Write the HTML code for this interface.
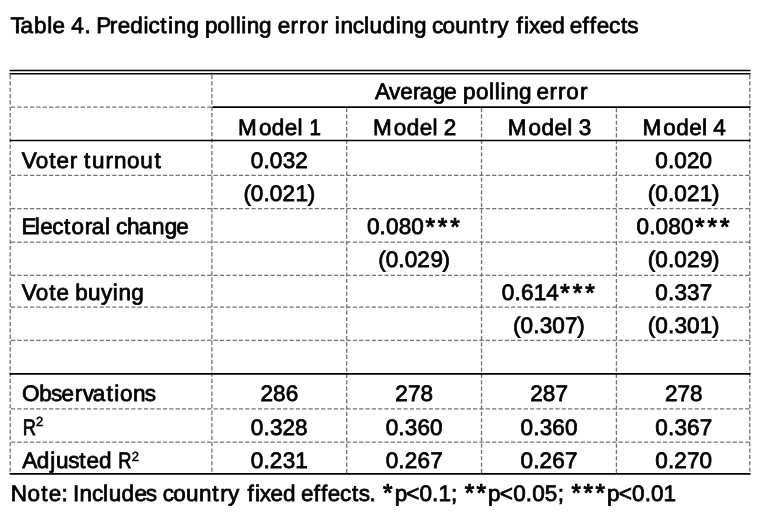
<!DOCTYPE html>
<html lang="en">
<head>
<meta charset="utf-8">
<title>Table 4. Predicting polling error including country fixed effects</title>
<style>
html,body{margin:0;padding:0;background:#fff}
svg{display:block}
text{font-family:"Liberation Sans",sans-serif;font-size:22.5px;fill:#000;stroke:#000;stroke-width:0.75;white-space:pre;text-rendering:geometricPrecision}
.sup{font-size:13.2px;stroke-width:0.45}
.ast{font-size:24.4px;stroke-width:1}
</style>
</head>
<body>
<svg width="768" height="516" viewBox="0 0 768 516">
<rect width="768" height="516" fill="#fff"/>
<g stroke="#727272" stroke-width="1.3" stroke-dasharray="4.2 2.13" fill="none">
<line x1="11" x2="212" y1="107.1" y2="107.1"/>
<line x1="11" x2="749.5" y1="175.44" y2="175.44"/>
<line x1="11" x2="749.5" y1="208.68" y2="208.68"/>
<line x1="11" x2="749.5" y1="242.06" y2="242.06"/>
<line x1="11" x2="749.5" y1="275.43" y2="275.43"/>
<line x1="11" x2="749.5" y1="307.2" y2="307.2"/>
<line x1="11" x2="749.5" y1="340.47" y2="340.47"/>
<line x1="11" x2="749.5" y1="408.78" y2="408.78"/>
<line x1="11" x2="749.5" y1="442.2" y2="442.2"/>
<line x1="10.22" x2="10.22" y1="75" y2="473.5"/>
<line x1="211.88" x2="211.88" y1="75" y2="473.5"/>
<line x1="346.68" x2="346.68" y1="108" y2="473.5"/>
<line x1="481.53" x2="481.53" y1="108" y2="473.5"/>
<line x1="616.43" x2="616.43" y1="108" y2="473.5"/>
<line x1="749.75" x2="749.75" y1="75" y2="473.5"/>
</g>
<g stroke="#000" fill="none">
<line x1="9.6" x2="750.6" y1="70.52" y2="70.52" stroke-width="1.55"/>
<line x1="9.6" x2="750.6" y1="73.76" y2="73.76" stroke-width="1.65"/>
<line x1="212.4" x2="750.6" y1="107.2" y2="107.2" stroke-width="1.7"/>
<line x1="9.6" x2="750.6" y1="140.45" y2="140.45" stroke-width="1.5"/>
<line x1="9.6" x2="750.6" y1="373.95" y2="373.95" stroke-width="1.8"/>
<line x1="9.6" x2="750.6" y1="473.9" y2="473.9" stroke-width="1.8"/>
</g>

<text><tspan x="10.38 20.55 34.11 47.18 52.51" y="33">Table</tspan> <tspan x="71.19 84.41" y="33">4.</tspan> <tspan x="96.17 109.77 117.65 130.17 143.47 148.46 160.28 168.01 173.72 186.40" y="33">Predicting</tspan> <tspan x="204.90 217.36 230.27 235.81 241.35 246.80 259.08" y="33">polling</tspan> <tspan x="277.87 290.61 299.00 307.11 320.51" y="33">error</tspan> <tspan x="334.69 340.49 352.79 363.99 369.51 382.44 395.71 401.38 414.01" y="33">including</tspan> <tspan x="431.97 442.53 455.34 468.24 481.61 489.50 497.25" y="33">country</tspan> <tspan x="516.43 524.05 528.92 539.68 552.30" y="33">fixed</tspan> <tspan x="569.78 582.57 589.86 596.72 608.98 620.98 627.33" y="33">effects</tspan></text>
<text><tspan x="375.03 389.02 400.15 412.95 419.80 432.72 444.21" y="99">Average</tspan> <tspan x="462.93 475.89 489.10 494.85 500.58 506.34 519.11" y="99">polling</tspan> <tspan x="536.62 549.55 558.07 566.31 579.89" y="99">error</tspan></text>
<text><tspan x="238.07 258.88 271.87 284.86 297.58" y="135">Model</tspan> <tspan x="309.57" y="135" textLength="11.42" lengthAdjust="spacingAndGlyphs">1</tspan></text>
<text><tspan x="372.89 393.70 406.69 419.68 432.40" y="135">Model</tspan> <tspan x="443.63" y="135">2</tspan></text>
<text><tspan x="507.77 528.58 541.57 554.56 567.28" y="135">Model</tspan> <tspan x="578.65" y="135">3</tspan></text>
<text><tspan x="642.49 663.30 676.29 689.28 702.00" y="135">Model</tspan> <tspan x="713.28" y="135">4</tspan></text>
<text><tspan x="21.86 35.67 49.35 56.62 69.79" y="168">Voter</tspan> <tspan x="84.08 92.04 105.55 114.04 127.12 140.21 154.39" y="168">turnout</tspan></text>
<text><tspan x="250.84 263.46 269.84 282.68 295.14" y="168">0.032</tspan></text>
<text><tspan x="655.26 667.88 674.26 686.96 699.62" y="168">0.020</tspan></text>
<text><tspan x="243.41 250.87 263.47 269.84 282.54 295.39 307.66" y="201">(0.021)</tspan></text>
<text><tspan x="647.83 655.29 667.89 674.26 686.96 699.81 712.08" y="201">(0.021)</tspan></text>
<text><tspan x="21.56 34.77 40.14 52.24 64.00 71.62 84.82 91.67 104.92" y="234">Electoral</tspan> <tspan x="115.94 126.98 138.74 152.10 164.80 176.28" y="234">change</tspan></text>
<text><tspan x="366.98 379.60 385.98 398.65 411.34" y="234">0.080</tspan><tspan class="ast" x="425.39 437.84 450.29" y="235">***</tspan></text>
<text><tspan x="636.58 649.20 655.58 668.25 680.94" y="234">0.080</tspan><tspan class="ast" x="694.99 707.44 719.89" y="235">***</tspan></text>
<text><tspan x="378.23 385.69 398.29 404.66 417.36 430.38 442.48" y="267">(0.029)</tspan></text>
<text><tspan x="647.83 655.29 667.89 674.26 686.96 699.98 712.08" y="267">(0.029)</tspan></text>
<text><tspan x="21.86 35.67 49.35 56.50" y="300">Vote</tspan> <tspan x="75.24 88.09 101.00 112.66 118.42 131.20" y="300">buying</tspan></text>
<text><tspan x="501.86 514.48 520.91 533.74 546.27" y="300">0.614</tspan><tspan class="ast" x="560.27 572.72 585.17" y="301">***</tspan></text>
<text><tspan x="655.26 667.88 674.43 687.10 699.76" y="300">0.337</tspan></text>
<text><tspan x="513.11 520.57 533.17 539.71 552.21 565.06 577.36" y="333">(0.307)</tspan></text>
<text><tspan x="647.83 655.29 667.89 674.43 686.93 699.81 712.08" y="333">(0.301)</tspan></text>
<text><tspan x="22.01 39.15 51.08 61.48 74.63 82.68 92.63 106.45 114.21 119.91 133.12 144.65" y="401">Observations</tspan></text>
<text><tspan x="260.46 273.02 285.68" y="401">286</tspan></text>
<text><tspan x="395.28 408.02 420.40" y="401">278</tspan></text>
<text><tspan x="530.16 542.72 555.55" y="401">287</tspan></text>
<text><tspan x="664.88 677.62 690.00" y="401">278</tspan></text>
<text><tspan x="22.77" y="435" textLength="13.22" lengthAdjust="spacingAndGlyphs">R</tspan><tspan class="sup" x="36.09" y="426" textLength="7.27" lengthAdjust="spacingAndGlyphs">2</tspan></text>
<text><tspan x="250.84 263.46 270.01 282.54 295.07" y="435">0.328</tspan></text>
<text><tspan x="385.66 398.28 404.83 417.38 430.02" y="435">0.360</tspan></text>
<text><tspan x="520.54 533.16 539.71 552.26 564.90" y="435">0.360</tspan></text>
<text><tspan x="655.26 667.88 674.43 686.98 699.76" y="435">0.367</tspan></text>
<text><tspan x="22.23 36.80 50.30 56.02 68.14 79.24 86.51 99.05" y="468">Adjusted</tspan> <tspan x="118.30" y="468" textLength="13.24" lengthAdjust="spacingAndGlyphs">R</tspan><tspan class="sup" x="131.64" y="461" textLength="7.27" lengthAdjust="spacingAndGlyphs">2</tspan></text>
<text><tspan x="250.84 263.46 269.87 282.68 295.18" y="468">0.231</tspan></text>
<text><tspan x="385.66 398.28 404.69 417.38 430.16" y="468">0.267</tspan></text>
<text><tspan x="520.54 533.16 539.57 552.26 565.04" y="468">0.267</tspan></text>
<text><tspan x="655.26 667.88 674.29 687.11 699.62" y="468">0.270</tspan></text>
<text><tspan x="10.83 27.48 41.32 48.75 61.61" y="501">Note:</tspan> <tspan x="73.09 79.57 91.90 103.12 108.67 121.61 134.52 145.67" y="501">Includes</tspan> <tspan x="162.67 173.23 186.04 198.94 212.31 220.19 227.95" y="501">country</tspan> <tspan x="247.42 254.98 259.81 270.49 283.01" y="501">fixed</tspan> <tspan x="300.97 313.70 320.97 327.80 340.01 351.98 358.83 369.44" y="501">effects.</tspan> <tspan class="ast" x="382.90" y="501">*</tspan><tspan x="394.65 406.22 419.46 431.95 438.41 450.94" y="501">p&lt;0.1;</tspan> <tspan class="ast" x="464.80 476.40" y="501">**</tspan><tspan x="488.08 499.80 513.19 525.78 532.14 544.64 557.63" y="501">p&lt;0.05;</tspan> <tspan class="ast" x="571.40 583.40 595.40" y="501">***</tspan><tspan x="607.08 618.75 632.09 644.65 650.97 663.54" y="501">p&lt;0.01</tspan></text>
</svg>
</body>
</html>
